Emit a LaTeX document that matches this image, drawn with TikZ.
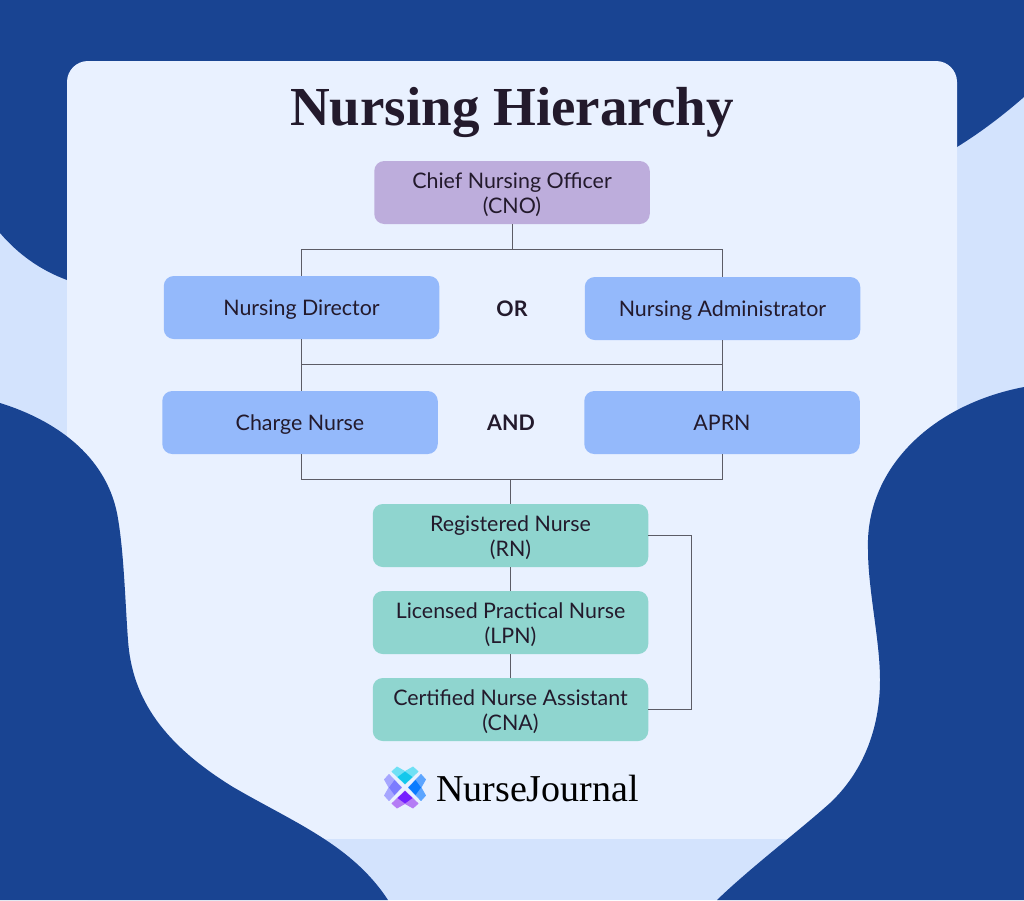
\documentclass[tikz,border=0pt]{standalone}
\usepackage{fontspec}
\setmainfont{Lato}
\newfontfamily\titlefont{Liberation Serif}
\definecolor{bglight}{HTML}{D3E3FD}
\definecolor{bgdark}{HTML}{194492}
\definecolor{cardc}{HTML}{E9F1FF}
\definecolor{bluebox}{HTML}{94B9FB}
\definecolor{purplebox}{HTML}{BDADDC}
\definecolor{tealbox}{HTML}{8FD5CF}
\definecolor{inkc}{HTML}{231A2C}
\definecolor{linec}{HTML}{5C5C66}
\newcommand{\padline}{\rule{0pt}{20pt}}
\tikzset{
  rolebox/.style={rectangle,rounded corners=10pt,inner sep=0pt,minimum width=275.5pt,minimum height=63pt,
    align=center,text=inkc,font=\fontsize{21.4}{25}\selectfont},
  oneline/.style={text height=15.6pt,text depth=0pt},
  bluerole/.style={rolebox,oneline,fill=bluebox},
  purplerole/.style={rolebox,fill=purplebox},
  tealrole/.style={rolebox,fill=tealbox},
  joinword/.style={text=inkc,inner sep=0pt,font=\fontsize{21.4}{25}\selectfont\bfseries},
  link/.style={draw=linec,line width=1pt,line join=miter},
  blob/.style={fill=bgdark},
}
\begin{document}
\begin{tikzpicture}[x=1pt,y=-1pt]
\useasboundingbox (0,0) rectangle (1024,900);
\fill[bglight] (0,0) rectangle (1024,900);
% top blob
\fill[blob] (0,0) -- (1024,0) -- (1024,97) .. controls (1000,118) and (978,134) .. (957,147)
  -- (500,300) -- (67,280) .. controls (40,270) and (18,254) .. (0,233) -- cycle;
% card
\fill[cardc,rounded corners=21pt] (67,61) rectangle (957,900);
\fill[bglight] (67,839) rectangle (957,900);
% left blob
\fill[blob] (0,900) -- (0,403) .. controls (55,420) and (105,455) .. (117,513)
  .. controls (124,550) and (125,600) .. (128,640)
  .. controls (132,700) and (165,745) .. (233,787)
  .. controls (295,823) and (352,845) .. (388,900) -- cycle;
% right blob
\fill[blob] (1024,900) -- (1024,387) .. controls (930,405) and (865,470) .. (868,550)
  .. controls (868,590) and (880,640) .. (880,680)
  .. controls (880,730) and (862,773) .. (830,803)
  .. controls (800,830) and (750,868) .. (717,900) -- cycle;
% title
\node[name=title,text=inkc,inner sep=0pt,font=\titlefont\fontsize{55}{60}\selectfont\bfseries] at (512,112) {Nursing Hierarchy};
% roles
\node[purplerole] (cno) at (512,192.5) {\padline Chief Nursing Officer\\(CNO)};
\node[bluerole] (dir) at (301.5,307.5) {Nursing Director};
\node[bluerole] (adm) at (722.5,308.5) {Nursing Administrator};
\node[bluerole] (chg) at (300,422.5) {Charge Nurse};
\node[bluerole] (apr) at (722,422.5) {APRN};
\node[tealrole] (rn) at (510.5,535.5) {\padline Registered Nurse\\(RN)};
\node[tealrole] (lpn) at (510.5,622.5) {\padline Licensed Practical Nurse\\(LPN)};
\node[tealrole] (cna) at (510.5,709.5) {\padline Certified Nurse Assistant\\(CNA)};
\node[joinword] (orw) at (512,308.5) {OR};
\node[joinword] (andw) at (511,422.5) {AND};
% junction points
\coordinate (busa) at (512,249.5);
\coordinate (busb) at (512,364.5);
\coordinate (busc) at (510.5,479.5);
\coordinate (busd) at (691,535.5);
% connectors
\draw[link] (cno.south) -- (busa);
\draw[link] (dir.north) -- (dir.north |- busa) -- (adm.north |- busa) -- (adm.north);
\draw[link] (dir.south) -- (dir.south |- chg.north);
\draw[link] (adm.south) -- (adm.south |- apr.north);
\draw[link] (dir.south |- busb) -- (adm.south |- busb);
\draw[link] (dir.south |- chg.south) -- (dir.south |- busc) -- (adm.south |- busc) -- (adm.south |- apr.south);
\draw[link] (busc) -- (rn.north);
\draw[link] (rn.south) -- (lpn.north);
\draw[link] (lpn.south) -- (cna.north);
\draw[link] (rn.east) -- (busd) -- (busd |- cna.east) -- (cna.east);
% logo mark
\begin{scope}[shift={(405,787.5)},line join=round]
\foreach \ang/\lt/\dk in {0/6FE0F5/12C8EC,90/A6A6FF/7C7CFF,180/B57CF5/7420FF,270/5CA5FF/0A7BFF}{
  \definecolor{lt}{HTML}{\lt}\definecolor{dk}{HTML}{\dk}
  \begin{scope}[rotate=\ang]
    \filldraw[fill=lt,draw=lt,line width=0.8pt] (-13,-16) -- (-8,-20.5) -- (0,-16) -- (8,-20.5) -- (13,-16) -- (0,-3.5) -- cycle;
    \fill[dk] (0,-16) -- (7.5,-10.5) -- (0,-3.5) -- (-7.5,-10.5) -- cycle;
  \end{scope}
}
\end{scope}
\node[name=brand,text=black,inner sep=0pt,font=\titlefont\fontsize{38}{40}\selectfont] at (537.5,788.5) {NurseJournal};
\end{tikzpicture}
\end{document}
